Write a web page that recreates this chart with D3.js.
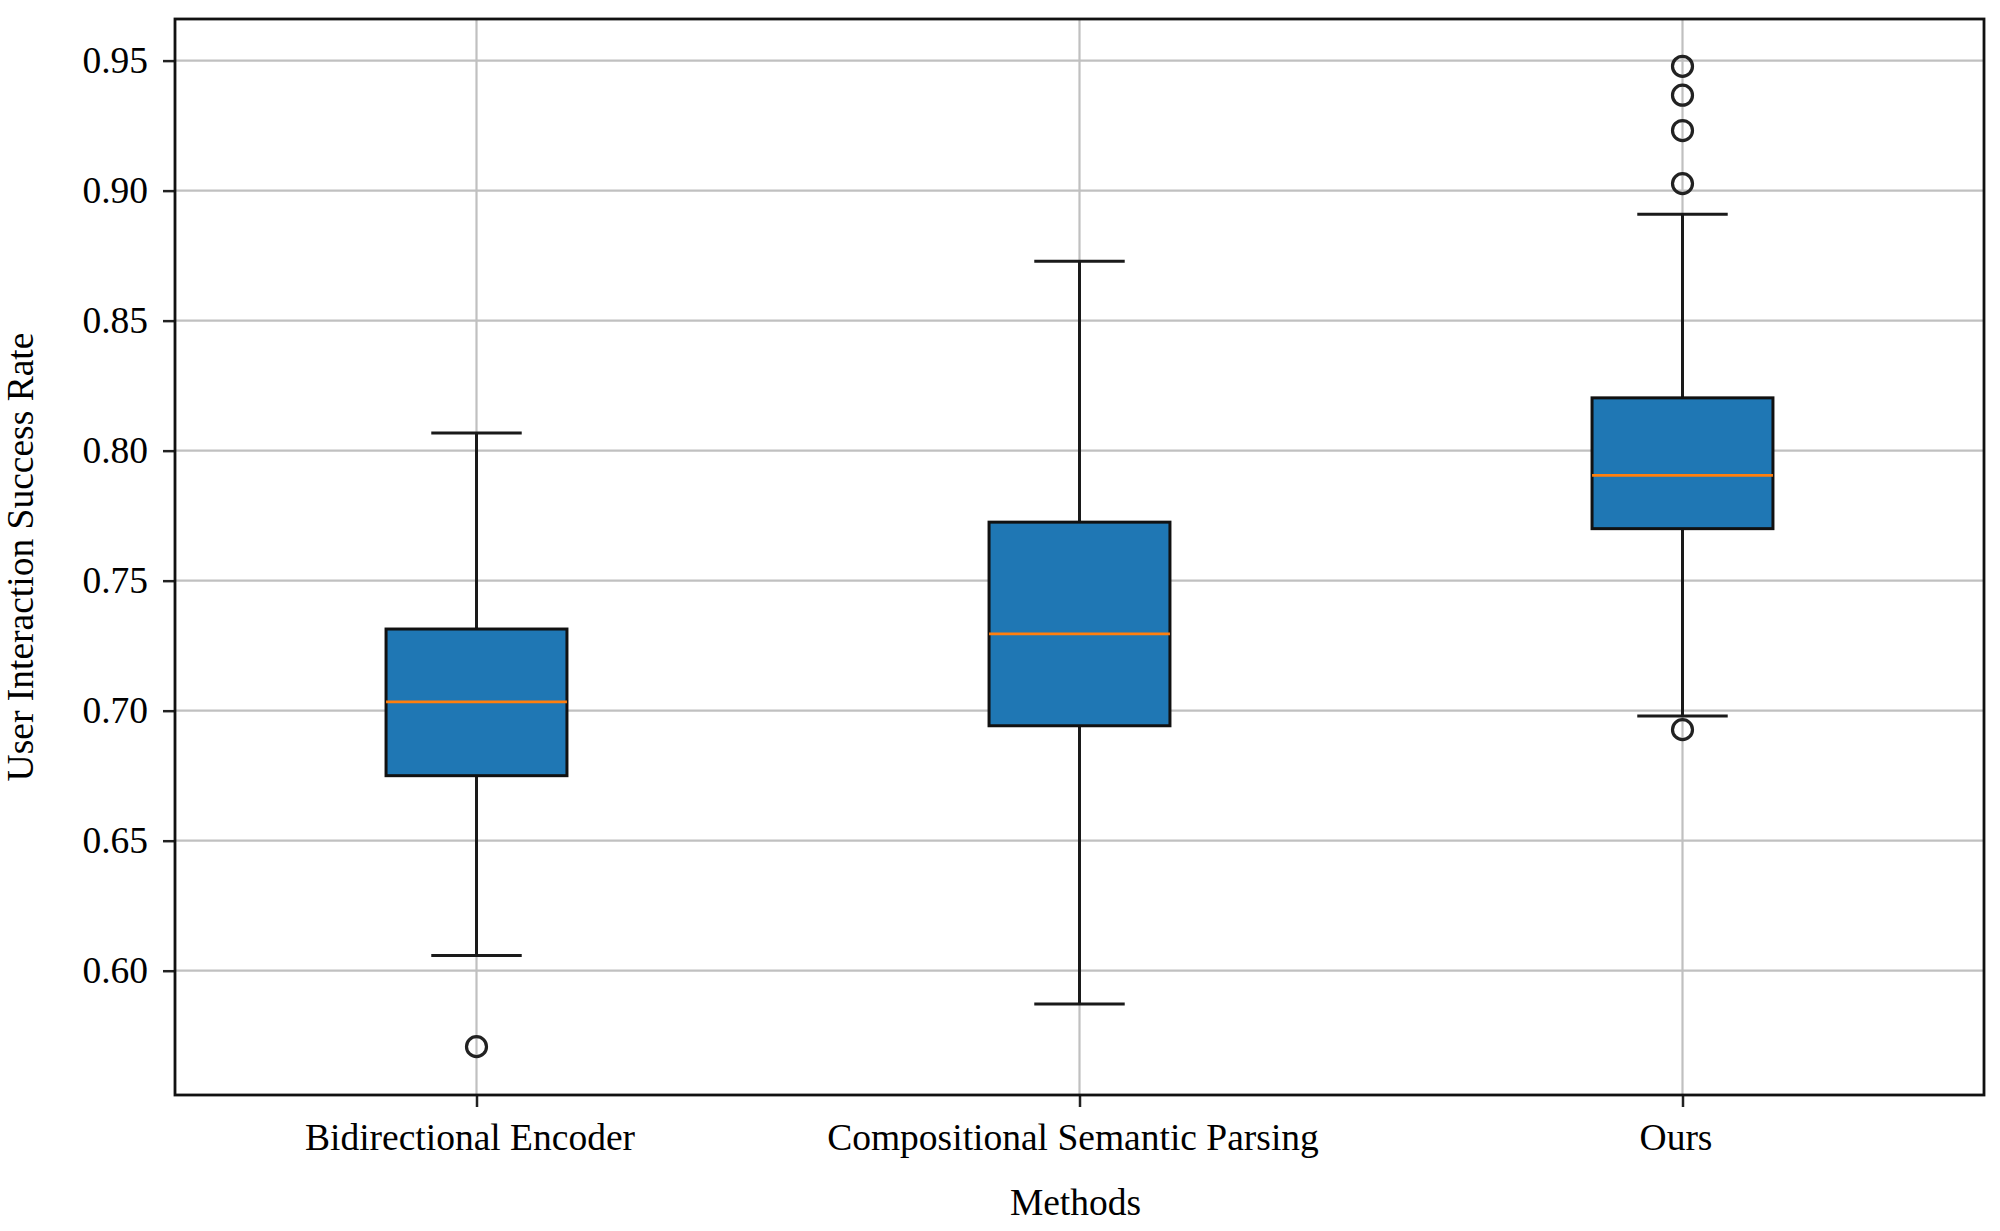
<!DOCTYPE html>
<html>
<head>
<meta charset="utf-8">
<script src="https://cdn.jsdelivr.net/npm/d3@7"></script>
<style>
  html, body { margin: 0; padding: 0; background: #fff; }
  svg { display: block; }
  text { font-family: "Liberation Serif", "Times New Roman", serif; fill: #000; }
</style>
</head>
<body>
<svg id="chart" width="2000" height="1231"></svg>
<script>
// ---- data ----
const categories = ["Bidirectional Encoder", "Compositional Semantic Parsing", "Ours"];
const whiskerLow  = [0.6058, 0.5872, 0.6980];
const q1          = [0.6750, 0.6942, 0.7700];
const median      = [0.7034, 0.7295, 0.7905];
const q3          = [0.7314, 0.7725, 0.8203];
const whiskerHigh = [0.8068, 0.8728, 0.8909];
const outliers    = [[0.5708], [], [0.9478, 0.9367, 0.9231, 0.9027, 0.6927]];
const yTicks      = [0.60, 0.65, 0.70, 0.75, 0.80, 0.85, 0.90, 0.95];
const xLabel = "Methods";
const yLabel = "User Interaction Success Rate";

// ---- layout ----
const plotL = 175, plotR = 1984, plotT = 19, plotB = 1095;
const svg = d3.select("#chart");
svg.append("rect").attr("width", 2000).attr("height", 1231).attr("fill", "#fff");

const x = d3.scaleLinear().domain([0.5, 3.5]).range([plotL, plotR]);
const y = d3.scaleLinear().domain([0.5522, 0.966]).range([plotB, plotT]);
const positions = categories.map((c, i) => i + 1);
const boxW = 0.3, capW = 0.15;

// grid
const grid = svg.append("g");
grid.selectAll("line.h").data(yTicks).join("line").attr("class", "h")
  .attr("x1", plotL).attr("x2", plotR)
  .attr("y1", d => y(d)).attr("y2", d => y(d))
  .attr("stroke", "#c0c0c0").attr("stroke-width", 2.2);
grid.selectAll("line.v").data(positions).join("line").attr("class", "v")
  .attr("x1", d => x(d)).attr("x2", d => x(d))
  .attr("y1", plotT).attr("y2", plotB)
  .attr("stroke", "#c0c0c0").attr("stroke-width", 2.2);

// boxes
const g = svg.append("g");
const boxes = g.selectAll("g.box").data(categories.map((c, i) => ({
  pos: positions[i], lo: whiskerLow[i], q1: q1[i], med: median[i], q3: q3[i], hi: whiskerHigh[i], out: outliers[i]
}))).join("g").attr("class", "box");

const lineCol = "#1a1a1a", lineW = 3;
// whiskers
boxes.append("line")
  .attr("x1", d => x(d.pos)).attr("x2", d => x(d.pos))
  .attr("y1", d => y(d.q3)).attr("y2", d => y(d.hi))
  .attr("stroke", lineCol).attr("stroke-width", lineW);
boxes.append("line")
  .attr("x1", d => x(d.pos)).attr("x2", d => x(d.pos))
  .attr("y1", d => y(d.q1)).attr("y2", d => y(d.lo))
  .attr("stroke", lineCol).attr("stroke-width", lineW);
// caps
boxes.append("line")
  .attr("x1", d => x(d.pos - capW / 2)).attr("x2", d => x(d.pos + capW / 2))
  .attr("y1", d => y(d.hi)).attr("y2", d => y(d.hi))
  .attr("stroke", lineCol).attr("stroke-width", lineW);
boxes.append("line")
  .attr("x1", d => x(d.pos - capW / 2)).attr("x2", d => x(d.pos + capW / 2))
  .attr("y1", d => y(d.lo)).attr("y2", d => y(d.lo))
  .attr("stroke", lineCol).attr("stroke-width", lineW);
// box
boxes.append("rect")
  .attr("x", d => x(d.pos - boxW / 2))
  .attr("width", d => x(d.pos + boxW / 2) - x(d.pos - boxW / 2))
  .attr("y", d => y(d.q3))
  .attr("height", d => y(d.q1) - y(d.q3))
  .attr("fill", "#1f77b4").attr("stroke", "#111").attr("stroke-width", 3);
// median
boxes.append("line")
  .attr("x1", d => x(d.pos - boxW / 2)).attr("x2", d => x(d.pos + boxW / 2))
  .attr("y1", d => y(d.med)).attr("y2", d => y(d.med))
  .attr("stroke", "#ff7f0e").attr("stroke-width", 2.8);
// outliers
boxes.each(function(d) {
  d3.select(this).selectAll("circle").data(d.out).join("circle")
    .attr("cx", x(d.pos)).attr("cy", v => y(v)).attr("r", 10)
    .attr("fill", "none").attr("stroke", "#222").attr("stroke-width", 3.2);
});

// axes
const xAxis = d3.axisBottom(x).tickValues(positions)
  .tickFormat((d, i) => categories[i]).tickSize(12).tickPadding(16);
const yAxis = d3.axisLeft(y).tickValues(yTicks)
  .tickFormat(d3.format(".2f")).tickSize(12).tickPadding(15);

const gx = svg.append("g").attr("transform", `translate(0,${plotB})`).call(xAxis);
const gy = svg.append("g").attr("transform", `translate(${plotL},0)`).call(yAxis);
[gx, gy].forEach(a => {
  a.select(".domain").remove();
  a.selectAll(".tick line").attr("stroke", "#222").attr("stroke-width", 2.5);
  a.selectAll(".tick text").attr("font-size", 37.5)
    .attr("font-family", "'Liberation Serif', 'Times New Roman', serif").attr("fill", "#000");
});
gx.selectAll(".tick text").attr("dx", -7);

// frame
svg.append("rect")
  .attr("x", plotL).attr("y", plotT).attr("width", plotR - plotL).attr("height", plotB - plotT)
  .attr("fill", "none").attr("stroke", "#111").attr("stroke-width", 2.8);

// labels
svg.append("text").attr("x", (plotL + plotR) / 2 - 4).attr("y", 1215)
  .attr("text-anchor", "middle").attr("font-size", 37.5).text(xLabel);
svg.append("text").attr("transform", `translate(33,${(plotT + plotB) / 2}) rotate(-90)`)
  .attr("text-anchor", "middle").attr("font-size", 37.5).text(yLabel);
</script>
</body>
</html>
